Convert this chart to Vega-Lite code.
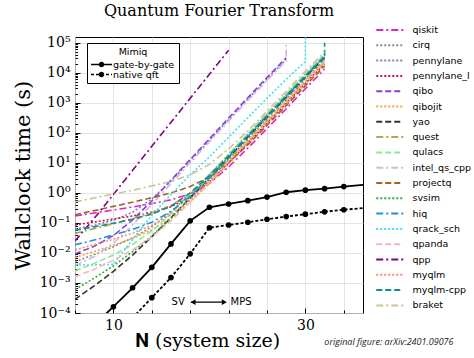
{
  "$schema": "https://vega.github.io/schema/vega-lite/v6.json",
  "width": 288,
  "height": 276,
  "autosize": "none",
  "padding": {"left": 75, "top": 37, "right": 111, "bottom": 45},
  "background": "white",
  "title": {"text": "Quantum Fourier Transform", "font": "DejaVu Serif", "fontSize": 16, "fontWeight": "normal", "anchor": "middle", "offset": 3, "color": "black"},
  "config": {"view": {"stroke": "black", "strokeWidth": 1}},
  "datasets": {
    "series": [
      {"s":"qiskit","N":6,"t":0.17},{"s":"qiskit","N":8,"t":0.214},{"s":"qiskit","N":10,"t":0.269},{"s":"qiskit","N":12,"t":0.339},{"s":"qiskit","N":14,"t":0.437},{"s":"qiskit","N":16,"t":0.589},{"s":"qiskit","N":18,"t":0.933},{"s":"qiskit","N":20,"t":2.09},{"s":"qiskit","N":22,"t":7.24},{"s":"qiskit","N":24,"t":30.9},{"s":"qiskit","N":26,"t":138},{"s":"qiskit","N":28,"t":631},{"s":"qiskit","N":30,"t":2950},{"s":"qiskit","N":32,"t":13200},
      {"s":"cirq","N":6,"t":0.00501},{"s":"cirq","N":8,"t":0.00891},{"s":"cirq","N":10,"t":0.0162},{"s":"cirq","N":12,"t":0.0316},{"s":"cirq","N":14,"t":0.0741},{"s":"cirq","N":16,"t":0.234},{"s":"cirq","N":18,"t":0.912},{"s":"cirq","N":20,"t":4.07},{"s":"cirq","N":22,"t":19.1},{"s":"cirq","N":24,"t":89.1},{"s":"cirq","N":26,"t":417},{"s":"cirq","N":28,"t":1905},{"s":"cirq","N":30,"t":8913},{"s":"cirq","N":32,"t":39800},
      {"s":"pennylane","N":6,"t":0.0631},{"s":"pennylane","N":8,"t":0.0832},{"s":"pennylane","N":10,"t":0.123},{"s":"pennylane","N":12,"t":0.226},{"s":"pennylane","N":14,"t":0.631},{"s":"pennylane","N":16,"t":2.51},{"s":"pennylane","N":18,"t":11.7},{"s":"pennylane","N":20,"t":56.2},{"s":"pennylane","N":22,"t":275},{"s":"pennylane","N":24,"t":1318},{"s":"pennylane","N":26,"t":6166},{"s":"pennylane","N":28,"t":28200},
      {"s":"pennylane_l","N":6,"t":0.0851},{"s":"pennylane_l","N":8,"t":0.107},{"s":"pennylane_l","N":10,"t":0.135},{"s":"pennylane_l","N":12,"t":0.17},{"s":"pennylane_l","N":14,"t":0.229},{"s":"pennylane_l","N":16,"t":0.347},{"s":"pennylane_l","N":18,"t":0.724},{"s":"pennylane_l","N":20,"t":2.34},{"s":"pennylane_l","N":22,"t":10},{"s":"pennylane_l","N":24,"t":44.7},{"s":"pennylane_l","N":26,"t":209},{"s":"pennylane_l","N":28,"t":955},{"s":"pennylane_l","N":30,"t":4467},{"s":"pennylane_l","N":32,"t":19950},
      {"s":"qibo","N":6,"t":0.00933},{"s":"qibo","N":8,"t":0.0166},{"s":"qibo","N":10,"t":0.038},{"s":"qibo","N":12,"t":0.126},{"s":"qibo","N":14,"t":0.537},{"s":"qibo","N":16,"t":2.63},{"s":"qibo","N":18,"t":12.9},{"s":"qibo","N":20,"t":63.1},{"s":"qibo","N":22,"t":309},{"s":"qibo","N":24,"t":1479},{"s":"qibo","N":26,"t":6918},{"s":"qibo","N":28,"t":31600},
      {"s":"qibojit","N":6,"t":0.00708},{"s":"qibojit","N":8,"t":0.0112},{"s":"qibojit","N":10,"t":0.0178},{"s":"qibojit","N":12,"t":0.0309},{"s":"qibojit","N":14,"t":0.0589},{"s":"qibojit","N":16,"t":0.145},{"s":"qibojit","N":18,"t":0.49},{"s":"qibojit","N":20,"t":2.0},{"s":"qibojit","N":22,"t":9.12},{"s":"qibojit","N":24,"t":42.7},{"s":"qibojit","N":26,"t":200},{"s":"qibojit","N":28,"t":912},{"s":"qibojit","N":30,"t":4266},{"s":"qibojit","N":32,"t":19050},
      {"s":"yao","N":6,"t":0.000288},{"s":"yao","N":8,"t":0.000794},{"s":"yao","N":10,"t":0.00245},{"s":"yao","N":12,"t":0.00851},{"s":"yao","N":14,"t":0.0347},{"s":"yao","N":16,"t":0.148},{"s":"yao","N":18,"t":0.684},{"s":"yao","N":20,"t":3.16},{"s":"yao","N":22,"t":14.8},{"s":"yao","N":24,"t":70.8},{"s":"yao","N":26,"t":331},{"s":"yao","N":28,"t":1514},{"s":"yao","N":30,"t":7079},{"s":"yao","N":32,"t":31600},
      {"s":"quest","N":6,"t":0.0447},{"s":"quest","N":8,"t":0.0646},{"s":"quest","N":10,"t":0.0933},{"s":"quest","N":12,"t":0.138},{"s":"quest","N":14,"t":0.214},{"s":"quest","N":16,"t":0.38},{"s":"quest","N":18,"t":0.891},{"s":"quest","N":20,"t":3.02},{"s":"quest","N":22,"t":12.3},{"s":"quest","N":24,"t":56.2},{"s":"quest","N":26,"t":263},{"s":"quest","N":28,"t":1202},{"s":"quest","N":30,"t":5623},{"s":"quest","N":32,"t":25100},
      {"s":"qulacs","N":6,"t":0.00251},{"s":"qulacs","N":8,"t":0.00447},{"s":"qulacs","N":10,"t":0.00851},{"s":"qulacs","N":12,"t":0.0191},{"s":"qulacs","N":14,"t":0.0537},{"s":"qulacs","N":16,"t":0.2},{"s":"qulacs","N":18,"t":0.881},{"s":"qulacs","N":20,"t":4.07},{"s":"qulacs","N":22,"t":19.5},{"s":"qulacs","N":24,"t":93.3},{"s":"qulacs","N":26,"t":437},{"s":"qulacs","N":28,"t":1995},{"s":"qulacs","N":30,"t":9333},{"s":"qulacs","N":32,"t":41700},
      {"s":"intel_qs_cpp","N":6,"t":0.0038},{"s":"intel_qs_cpp","N":8,"t":0.00759},{"s":"intel_qs_cpp","N":10,"t":0.0214},{"s":"intel_qs_cpp","N":12,"t":0.0851},{"s":"intel_qs_cpp","N":14,"t":0.412},{"s":"intel_qs_cpp","N":16,"t":2.04},{"s":"intel_qs_cpp","N":18,"t":10.2},{"s":"intel_qs_cpp","N":20,"t":50.1},{"s":"intel_qs_cpp","N":22,"t":245},{"s":"intel_qs_cpp","N":24,"t":1175},{"s":"intel_qs_cpp","N":26,"t":5495},{"s":"intel_qs_cpp","N":28,"t":25100},{"s":"intel_qs_cpp","N":28,"t":100000},
      {"s":"projectq","N":6,"t":0.186},{"s":"projectq","N":8,"t":0.257},{"s":"projectq","N":10,"t":0.355},{"s":"projectq","N":12,"t":0.49},{"s":"projectq","N":14,"t":0.692},{"s":"projectq","N":16,"t":1.0},{"s":"projectq","N":18,"t":1.62},{"s":"projectq","N":20,"t":3.39},{"s":"projectq","N":22,"t":10.2},{"s":"projectq","N":24,"t":39.8},{"s":"projectq","N":26,"t":178},{"s":"projectq","N":28,"t":794},{"s":"projectq","N":30,"t":3715},{"s":"projectq","N":32,"t":16600},
      {"s":"svsim","N":6,"t":0.000603},{"s":"svsim","N":8,"t":0.00145},{"s":"svsim","N":10,"t":0.00372},{"s":"svsim","N":12,"t":0.011},{"s":"svsim","N":14,"t":0.0372},{"s":"svsim","N":16,"t":0.145},{"s":"svsim","N":18,"t":0.631},{"s":"svsim","N":20,"t":2.88},{"s":"svsim","N":22,"t":13.2},{"s":"svsim","N":24,"t":63.1},{"s":"svsim","N":26,"t":295},{"s":"svsim","N":28,"t":1349},{"s":"svsim","N":30,"t":6310},{"s":"svsim","N":32,"t":28200},
      {"s":"hiq","N":6,"t":0.0186},{"s":"hiq","N":8,"t":0.0269},{"s":"hiq","N":10,"t":0.0398},{"s":"hiq","N":12,"t":0.0603},{"s":"hiq","N":14,"t":0.105},{"s":"hiq","N":16,"t":0.24},{"s":"hiq","N":18,"t":0.785},{"s":"hiq","N":20,"t":3.24},{"s":"hiq","N":22,"t":15.8},{"s":"hiq","N":24,"t":75},{"s":"hiq","N":26,"t":355},{"s":"hiq","N":28,"t":1620},{"s":"hiq","N":30,"t":7600},{"s":"hiq","N":32,"t":34000},
      {"s":"qrack_sch","N":6,"t":0.00398},{"s":"qrack_sch","N":8,"t":0.00398},{"s":"qrack_sch","N":10,"t":0.00417},{"s":"qrack_sch","N":12,"t":0.0282},{"s":"qrack_sch","N":14,"t":0.178},{"s":"qrack_sch","N":16,"t":0.891},{"s":"qrack_sch","N":18,"t":3.98},{"s":"qrack_sch","N":20,"t":15.8},{"s":"qrack_sch","N":22,"t":70.8},{"s":"qrack_sch","N":24,"t":316},{"s":"qrack_sch","N":26,"t":1413},{"s":"qrack_sch","N":28,"t":6026},{"s":"qrack_sch","N":30,"t":24000},{"s":"qrack_sch","N":30,"t":200000},
      {"s":"qpanda","N":6,"t":0.00158},{"s":"qpanda","N":8,"t":0.00288},{"s":"qpanda","N":10,"t":0.00575},{"s":"qpanda","N":12,"t":0.0126},{"s":"qpanda","N":14,"t":0.0339},{"s":"qpanda","N":16,"t":0.117},{"s":"qpanda","N":18,"t":0.49},{"s":"qpanda","N":20,"t":2.24},{"s":"qpanda","N":22,"t":11.5},{"s":"qpanda","N":24,"t":55},{"s":"qpanda","N":26,"t":257},{"s":"qpanda","N":28,"t":1180},{"s":"qpanda","N":30,"t":5500},{"s":"qpanda","N":32,"t":24500},
      {"s":"qpp","N":6,"t":0.0251},{"s":"qpp","N":8,"t":0.141},{"s":"qpp","N":10,"t":0.891},{"s":"qpp","N":12,"t":5.62},{"s":"qpp","N":14,"t":35.5},{"s":"qpp","N":16,"t":224},{"s":"qpp","N":18,"t":1413},{"s":"qpp","N":20,"t":8913},{"s":"qpp","N":22,"t":56200},
      {"s":"myqlm","N":6,"t":0.0126},{"s":"myqlm","N":8,"t":0.0191},{"s":"myqlm","N":10,"t":0.0288},{"s":"myqlm","N":12,"t":0.0457},{"s":"myqlm","N":14,"t":0.0832},{"s":"myqlm","N":16,"t":0.186},{"s":"myqlm","N":18,"t":0.589},{"s":"myqlm","N":20,"t":2.34},{"s":"myqlm","N":22,"t":10.7},{"s":"myqlm","N":24,"t":50.1},{"s":"myqlm","N":26,"t":234},{"s":"myqlm","N":28,"t":1072},{"s":"myqlm","N":30,"t":5012},{"s":"myqlm","N":32,"t":22400},
      {"s":"myqlm-cpp","N":6,"t":0.0562},{"s":"myqlm-cpp","N":8,"t":0.0741},{"s":"myqlm-cpp","N":10,"t":0.0977},{"s":"myqlm-cpp","N":12,"t":0.133},{"s":"myqlm-cpp","N":14,"t":0.195},{"s":"myqlm-cpp","N":16,"t":0.359},{"s":"myqlm-cpp","N":18,"t":1.0},{"s":"myqlm-cpp","N":20,"t":3.76},{"s":"myqlm-cpp","N":22,"t":17.0},{"s":"myqlm-cpp","N":24,"t":79.4},{"s":"myqlm-cpp","N":26,"t":372},{"s":"myqlm-cpp","N":28,"t":1698},{"s":"myqlm-cpp","N":30,"t":7943},{"s":"myqlm-cpp","N":32,"t":35500},{"s":"myqlm-cpp","N":32,"t":100000},
      {"s":"braket","N":6,"t":0.501},{"s":"braket","N":8,"t":0.676},{"s":"braket","N":10,"t":0.912},{"s":"braket","N":12,"t":1.23},{"s":"braket","N":14,"t":1.7},{"s":"braket","N":16,"t":2.4},{"s":"braket","N":18,"t":3.98},{"s":"braket","N":20,"t":8.91},{"s":"braket","N":22,"t":28.8},{"s":"braket","N":24,"t":115},{"s":"braket","N":26,"t":525},{"s":"braket","N":28,"t":2399},{"s":"braket","N":30,"t":11220},{"s":"braket","N":32,"t":50100}
    ],
    "mimiq": [
      {"m":"gate-by-gate","N":8,"t":0.0000398},{"m":"gate-by-gate","N":10,"t":0.000162},{"m":"gate-by-gate","N":12,"t":0.000692},{"m":"gate-by-gate","N":14,"t":0.00331},{"m":"gate-by-gate","N":16,"t":0.02},{"m":"gate-by-gate","N":18,"t":0.117},{"m":"gate-by-gate","N":20,"t":0.331},{"m":"gate-by-gate","N":22,"t":0.427},{"m":"gate-by-gate","N":24,"t":0.55},{"m":"gate-by-gate","N":26,"t":0.724},{"m":"gate-by-gate","N":28,"t":1.05},{"m":"gate-by-gate","N":30,"t":1.23},{"m":"gate-by-gate","N":32,"t":1.38},{"m":"gate-by-gate","N":34,"t":1.62},{"m":"gate-by-gate","N":36,"t":1.86},
      {"m":"native qft","N":12,"t":0.0000692},{"m":"native qft","N":14,"t":0.000324},{"m":"native qft","N":16,"t":0.00151},{"m":"native qft","N":18,"t":0.00933},{"m":"native qft","N":20,"t":0.0692},{"m":"native qft","N":22,"t":0.0851},{"m":"native qft","N":24,"t":0.105},{"m":"native qft","N":26,"t":0.132},{"m":"native qft","N":28,"t":0.162},{"m":"native qft","N":30,"t":0.195},{"m":"native qft","N":32,"t":0.234},{"m":"native qft","N":34,"t":0.275},{"m":"native qft","N":36,"t":0.309}
    ]
  },
  "layer": [
    {
      "data": {"name": "series"},
      "mark": {"type": "line", "strokeWidth": 1.6, "clip": true},
      "encoding": {
        "x": {
          "field": "N", "type": "quantitative",
          "scale": {"domain": [6, 36], "nice": false, "zero": false},
          "axis": {
            "title": "𝐍 (system size)",
            "values": [6,8,10,12,14,16,18,20,22,24,26,28,30,32,34,36],
            "labelExpr": "datum.value % 10 === 0 ? datum.label : ''",
            "labelOverlap": false,
            "domain": false,
            "tickColor": "black",
            "tickSize": {"condition": {"test": "datum.value % 10 === 0", "value": -5}, "value": -3},
            "labelPadding": 10,
            "labelFont": "DejaVu Serif", "labelFontSize": 14, "labelColor": "black",
            "gridColor": "#dddddd", "gridWidth": 0.8,
            "titleFont": "DejaVu Serif", "titleFontSize": 19, "titleFontWeight": "normal", "titleColor": "black", "titlePadding": -3, "titleX": 132
          }
        },
        "y": {
          "field": "t", "type": "quantitative",
          "scale": {"type": "log", "domain": [0.0001, 155000], "nice": false},
          "axis": {
            "title": "Wallclock time (s)",
            "values": [0.0001,0.0002,0.0003,0.0004,0.0005,0.0006,0.0007,0.0008,0.0009,0.001,0.002,0.003,0.004,0.005,0.006,0.007,0.008,0.009,0.01,0.02,0.03,0.04,0.05,0.06,0.07,0.08,0.09,0.1,0.2,0.3,0.4,0.5,0.6,0.7,0.8,0.9,1,2,3,4,5,6,7,8,9,10,20,30,40,50,60,70,80,90,100,200,300,400,500,600,700,800,900,1000,2000,3000,4000,5000,6000,7000,8000,9000,10000,20000,30000,40000,50000,60000,70000,80000,90000,100000],
            "labelExpr": "abs(datum.value/pow(10,round(log(datum.value)/LN10))-1)<0.001 ? ['10⁻⁴','10⁻³','10⁻²','10⁻¹','10⁰','10¹','10²','10³','10⁴','10⁵'][round(log(datum.value)/LN10)+4] : ''",
            "labelOverlap": false,
            "domain": false,
            "tickColor": "black",
            "tickSize": {"condition": {"test": "abs(datum.value/pow(10,round(log(datum.value)/LN10))-1)<0.001", "value": -5}, "value": -2.5},
            "gridOpacity": {"condition": {"test": "abs(datum.value/pow(10,round(log(datum.value)/LN10))-1)<0.001", "value": 1}, "value": 0},
            "labelPadding": 10,
            "labelFont": "DejaVu Serif", "labelFontSize": 14, "labelColor": "black",
            "gridColor": "#dddddd", "gridWidth": 0.8,
            "titleFont": "DejaVu Serif", "titleFontSize": 21, "titleFontWeight": "normal", "titleColor": "black", "titlePadding": 6
          }
        },
        "color": {
          "field": "s", "type": "nominal",
          "scale": {
            "domain": ["qiskit","cirq","pennylane","pennylane_l","qibo","qibojit","yao","quest","qulacs","intel_qs_cpp","projectq","svsim","hiq","qrack_sch","qpanda","qpp","myqlm","myqlm-cpp","braket"],
            "range": ["#e320cf","#8c8c8c","#7e7ec4","#d4143c","#8b3fd9","#f2a33a","#333333","#b5a64e","#8fe88f","#cdbcd9","#a3621f","#3aaa3a","#1f8fe0","#3fe3e8","#f4b6c6","#7e057e","#f0906e","#138c8c","#cfc09a"]
          },
          "legend": {"title": null, "orient": "none", "legendX": 300, "legendY": -15, "symbolType": "M-1,0H3", "symbolSize": 182.25, "symbolStrokeWidth": 2, "labelFont": "DejaVu Sans", "labelFontSize": 9.5, "labelColor": "black", "rowPadding": 2.3, "labelOffset": 21.5, "padding": 0, "labelLimit": 200}
        },
        "strokeDash": {
          "field": "s", "type": "nominal",
          "scale": {
            "domain": ["qiskit","cirq","pennylane","pennylane_l","qibo","qibojit","yao","quest","qulacs","intel_qs_cpp","projectq","svsim","hiq","qrack_sch","qpanda","qpp","myqlm","myqlm-cpp","braket"],
            "range": [[7,3,2,3],[2,2],[2,2],[2,2],[6,3],[2,2],[6,3],[7,3,2,3],[6,3],[7,3,2,3],[6,3],[2,2],[7,3,2,3],[2,2],[6,3],[7,3,2,3],[2,2],[6,3],[7,3,2,3]]
          },
          "legend": {"title": null, "orient": "none", "legendX": 300, "legendY": -15, "symbolType": "M-1,0H3", "symbolSize": 182.25, "symbolStrokeWidth": 2, "labelFont": "DejaVu Sans", "labelFontSize": 9.5, "labelColor": "black", "rowPadding": 2.3, "labelOffset": 21.5, "padding": 0, "labelLimit": 200}
        }
      }
    },
    {
      "data": {"name": "mimiq"},
      "transform": [{"filter": "datum.m === 'gate-by-gate'"}],
      "mark": {"type": "line", "color": "black", "strokeWidth": 1.8, "clip": true},
      "encoding": {"x": {"field": "N", "type": "quantitative"}, "y": {"field": "t", "type": "quantitative"}}
    },
    {
      "data": {"name": "mimiq"},
      "transform": [{"filter": "datum.m === 'native qft'"}],
      "mark": {"type": "line", "color": "black", "strokeWidth": 1.8, "strokeDash": [3, 2], "clip": true},
      "encoding": {"x": {"field": "N", "type": "quantitative"}, "y": {"field": "t", "type": "quantitative"}}
    },
    {
      "data": {"name": "mimiq"},
      "transform": [{"filter": "datum.N <= 34"}],
      "mark": {"type": "point", "filled": true, "color": "black", "size": 32, "opacity": 1, "clip": true},
      "encoding": {"x": {"field": "N", "type": "quantitative"}, "y": {"field": "t", "type": "quantitative"}}
    },
    {
      "data": {"name": "mimiq"},
      "transform": [{"filter": "datum.N > 100"}],
      "mark": {"type": "point", "filled": true, "color": "black", "opacity": 1, "clip": true},
      "encoding": {
        "x": {"field": "N", "type": "quantitative"},
        "y": {"field": "t", "type": "quantitative"},
        "shape": {
          "field": "m", "type": "nominal",
          "scale": {
            "domain": ["gate-by-gate", "native qft"],
            "range": [
              "M-1,-0.15H3.2V0.15H-1ZM1.65,0A0.55,0.55,0,1,1,0.55,0A0.55,0.55,0,1,1,1.65,0Z",
              "M-1,-0.15H-0.4V0.15H-1ZM0,-0.15H0.6V0.15H0ZM1,-0.15H1.6V0.15H1ZM2,-0.15H2.6V0.15H2ZM3,-0.15H3.2V0.15H3ZM1.65,0A0.55,0.55,0,1,1,0.55,0A0.55,0.55,0,1,1,1.65,0Z"
            ]
          },
          "legend": {
            "title": "Mimiq", "orient": "none", "legendX": 12, "legendY": 6,
            "strokeColor": "black", "fillColor": "white", "padding": 4,
            "titleFont": "DejaVu Sans", "titleFontSize": 9.5, "titleFontWeight": "normal", "titleColor": "black", "titleAnchor": "middle", "titlePadding": 3,
            "labelFont": "DejaVu Sans", "labelFontSize": 9.5, "labelColor": "black", "labelOffset": 12,
            "symbolSize": 100, "symbolFillColor": "black", "symbolStrokeWidth": 0, "symbolOpacity": 1,
            "rowPadding": -1.5
          }
        }
      }
    },
    {
      "data": {"values": [{}]},
      "mark": {"type": "text", "text": "SV", "font": "DejaVu Sans", "fontSize": 10, "align": "center", "baseline": "middle", "color": "black"},
      "encoding": {"x": {"datum": 16.75, "type": "quantitative"}, "y": {"datum": 0.00023, "type": "quantitative"}}
    },
    {
      "data": {"values": [{}]},
      "mark": {"type": "text", "text": "MPS", "font": "DejaVu Sans", "fontSize": 10, "align": "center", "baseline": "middle", "color": "black"},
      "encoding": {"x": {"datum": 23.3, "type": "quantitative"}, "y": {"datum": 0.00023, "type": "quantitative"}}
    },
    {
      "data": {"values": [{}]},
      "mark": {"type": "rule", "color": "black", "strokeWidth": 1.3},
      "encoding": {"x": {"datum": 18.1, "type": "quantitative"}, "x2": {"datum": 21.7}, "y": {"datum": 0.00023, "type": "quantitative"}}
    },
    {
      "data": {"values": [{}]},
      "mark": {"type": "point", "shape": "triangle-left", "filled": true, "color": "black", "size": 32, "opacity": 1},
      "encoding": {"x": {"datum": 18.3, "type": "quantitative"}, "y": {"datum": 0.00023, "type": "quantitative"}}
    },
    {
      "data": {"values": [{}]},
      "mark": {"type": "point", "shape": "triangle-right", "filled": true, "color": "black", "size": 32, "opacity": 1},
      "encoding": {"x": {"datum": 21.55, "type": "quantitative"}, "y": {"datum": 0.00023, "type": "quantitative"}}
    },
    {
      "data": {"values": [{}]},
      "mark": {"type": "text", "text": "original figure: arXiv:2401.09076", "font": "Open Sans", "fontStyle": "italic", "fontSize": 9, "align": "center", "baseline": "middle", "color": "#222222"},
      "encoding": {"x": {"datum": 38.7, "type": "quantitative"}, "y": {"datum": 0.0000107, "type": "quantitative"}}
    }
  ]
}
